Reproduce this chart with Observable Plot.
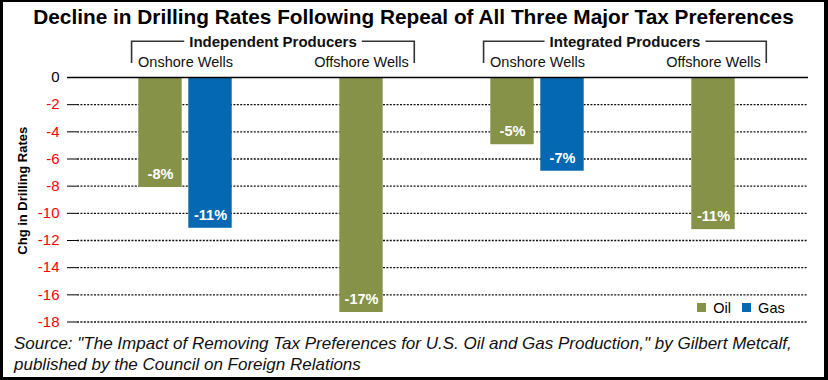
<!DOCTYPE html>
<html><head><meta charset="utf-8">
<script src="https://cdn.jsdelivr.net/npm/d3@7"></script>
<script src="https://cdn.jsdelivr.net/npm/@observablehq/plot@0.6"></script>
<style>
html,body{margin:0;padding:0;background:#fff;}
#chart{position:relative;width:828px;height:380px;box-sizing:border-box;border-style:solid;border-color:#000;border-width:2px 4px 3px 3px;background:#fff;font-family:"Liberation Sans",Arial,sans-serif;overflow:hidden;}
#title{position:absolute;left:0;top:2.8px;width:821px;text-align:center;font-weight:bold;font-size:20.8px;line-height:24px;color:#000;white-space:nowrap;}
#plot{position:absolute;left:0;top:0;}
#caption{position:absolute;left:11px;top:330.6px;font-style:italic;font-size:17px;line-height:21px;color:#111;white-space:nowrap;}
#legend{position:absolute;left:694px;top:289px;}
#legend span{margin-right:0.75em !important;}
</style></head><body>
<div id="chart">
  <div id="plot"></div>
  <div id="title">Decline in Drilling Rates Following Repeal of All Three Major Tax Preferences</div>
  <div id="legend"></div>
  <div id="caption">Source: "The Impact of Removing Tax Preferences for U.S. Oil and Gas Production," by Gilbert Metcalf,<br>published by the Council on Foreign Relations</div>
</div>
<script>
// ---- data ----
const categoryKeys = ["ind-onshore", "ind-offshore", "int-onshore", "int-offshore"];
const categoryLabels = ["Onshore Wells", "Offshore Wells", "Onshore Wells", "Offshore Wells"];
const categoryGroups = ["Independent Producers", "Independent Producers", "Integrated Producers", "Integrated Producers"];
const groupNames = ["Independent Producers", "Integrated Producers"];
const seriesNames = ["Oil", "Gas"];
const oilValues = [-8.1, -17.3, -4.95, -11.2];
const gasValues = [-11.1, null, -6.9, null];
const oilLabels = ["-8%", "-17%", "-5%", "-11%"];
const gasLabels = ["-11%", null, "-7%", null];
const yTicks = [0, -2, -4, -6, -8, -10, -12, -14, -16, -18];
const yLabel = "Chg in Drilling Rates";

// ---- styles / layout ----
const oilColor = "#879249", gasColor = "#0568B3";
const FONT = '"Liberation Sans", Arial, sans-serif';
const W = 821, H = 328, mL = 74, mR = 16, mT = 75, mB = 8.5;
const xInsetL = 18.8, xInsetR = 5.8, barW = 44, barGap = 6;
const bw = (W - mL - mR - xInsetL - xInsetR) / categoryKeys.length;

const rows = [];
categoryKeys.forEach((k, i) => {
  const paired = gasValues[i] != null;
  rows.push({key: k, series: seriesNames[0], value: oilValues[i], label: oilLabels[i], paired});
  if (paired) rows.push({key: k, series: seriesNames[1], value: gasValues[i], label: gasLabels[i], paired});
});
const pairedOil = rows.filter(d => d.series === "Oil" && d.paired);
const soloOil = rows.filter(d => d.series === "Oil" && !d.paired);
const gasRows = rows.filter(d => d.series === "Gas");

const leftIn = bw / 2 - barGap / 2 - barW, rightIn = bw / 2 + barGap / 2;
const shift = barGap / 2 + barW / 2;
const labelOpts = {x: "key", y: "value", text: "label", dy: -13, fill: "white", fontWeight: "bold", fontSize: 14.5};

const plot = Plot.plot({
  width: W, height: H,
  marginLeft: mL, marginRight: mR, marginTop: mT, marginBottom: mB,
  style: {fontFamily: FONT, fontSize: "15px", background: "transparent", overflow: "visible", color: "#000"},
  x: {type: "band", domain: categoryKeys, padding: 0, insetLeft: xInsetL, insetRight: xInsetR, axis: null},
  y: {domain: [-18, 0]},
  marks: [
    Plot.ruleY(yTicks.filter(t => t !== 0), {stroke: "#111", strokeWidth: 1.4, strokeDasharray: "2,1.4"}),
    Plot.barY(pairedOil, {x: "key", y1: 0, y2: "value", fill: oilColor, insetLeft: leftIn, insetRight: rightIn}),
    Plot.barY(soloOil, {x: "key", y1: 0, y2: "value", fill: oilColor, insetLeft: (bw - barW) / 2, insetRight: (bw - barW) / 2}),
    Plot.barY(gasRows, {x: "key", y1: 0, y2: "value", fill: gasColor, insetLeft: rightIn, insetRight: leftIn}),
    Plot.ruleY([0], {stroke: "#000", strokeWidth: 1.6, insetLeft: -10}),
    Plot.axisY(yTicks.filter(t => t < 0), {anchor: "left", tickSize: 10, tickPadding: 8, fill: "#ff0000", stroke: "#000", fontSize: 15, tickFormat: d => String(d), label: null}),
    Plot.axisY([0], {anchor: "left", tickSize: 10, tickPadding: 8, fill: "#000", stroke: "#000", fontSize: 15, tickFormat: d => String(d), label: null}),
    Plot.text(pairedOil, {...labelOpts, dx: -shift}),
    Plot.text(soloOil, {...labelOpts}),
    Plot.text(gasRows, {...labelOpts, dx: shift}),
    Plot.text(categoryKeys, {x: d => d, text: (d, i) => categoryLabels[i], frameAnchor: "top", lineAnchor: "middle", dy: -15, fontSize: 14.5, fill: "#111"}),
    Plot.text([yLabel], {text: d => d, frameAnchor: "left", textAnchor: "middle", lineAnchor: "middle", rotate: -90, dx: -55, dy: -9, fontWeight: "bold", fontSize: 13, fill: "#000"})
  ]
});
document.getElementById("plot").appendChild(plot);

// ---- group brackets (positions from the x scale) ----
const xs = plot.scale("x");
const center = k => xs.apply(k) + xs.bandwidth / 2;
const svg = d3.select(plot);
const measure = (txt, size, weight) => {
  const t = svg.append("text").attr("font-size", size).attr("font-weight", weight).attr("font-family", FONT).text(txt);
  const w = t.node().getComputedTextLength(); t.remove(); return w;
};
const lineY = 39.3, tickBottom = 61, textBase = 44.6;
groupNames.forEach(g => {
  const idx = categoryGroups.map((c, i) => c === g ? i : -1).filter(i => i >= 0);
  const first = idx[0], last = idx[idx.length - 1];
  const c0 = center(categoryKeys[first]), c1 = center(categoryKeys[last]);
  const left = c0 - measure(categoryLabels[first], 14.5, "normal") / 2 - 6;
  const right = c1 + measure(categoryLabels[last], 14.5, "normal") / 2 + 6;
  const mid = (c0 + c1) / 2;
  const tw = measure(g, 15, "bold");
  svg.append("path")
    .attr("d", `M${left},${tickBottom}V${lineY}H${mid - tw / 2 - 5}M${mid + tw / 2 + 5},${lineY}H${right}V${tickBottom}`)
    .attr("fill", "none").attr("stroke", "#333").attr("stroke-width", 1.6);
  svg.append("text").attr("x", mid).attr("y", textBase).attr("text-anchor", "middle")
    .attr("font-size", 15).attr("font-weight", "bold").attr("font-family", FONT).attr("fill", "#111").text(g);
});

// ---- legend ----
const legend = Plot.legend({
  color: {type: "ordinal", domain: seriesNames, range: [oilColor, gasColor]},
  legend: "swatches", swatchSize: 9,
  style: {fontSize: "14.5px", fontFamily: FONT, color: "#000"}
});
document.getElementById("legend").appendChild(legend);
</script>
</body></html>
